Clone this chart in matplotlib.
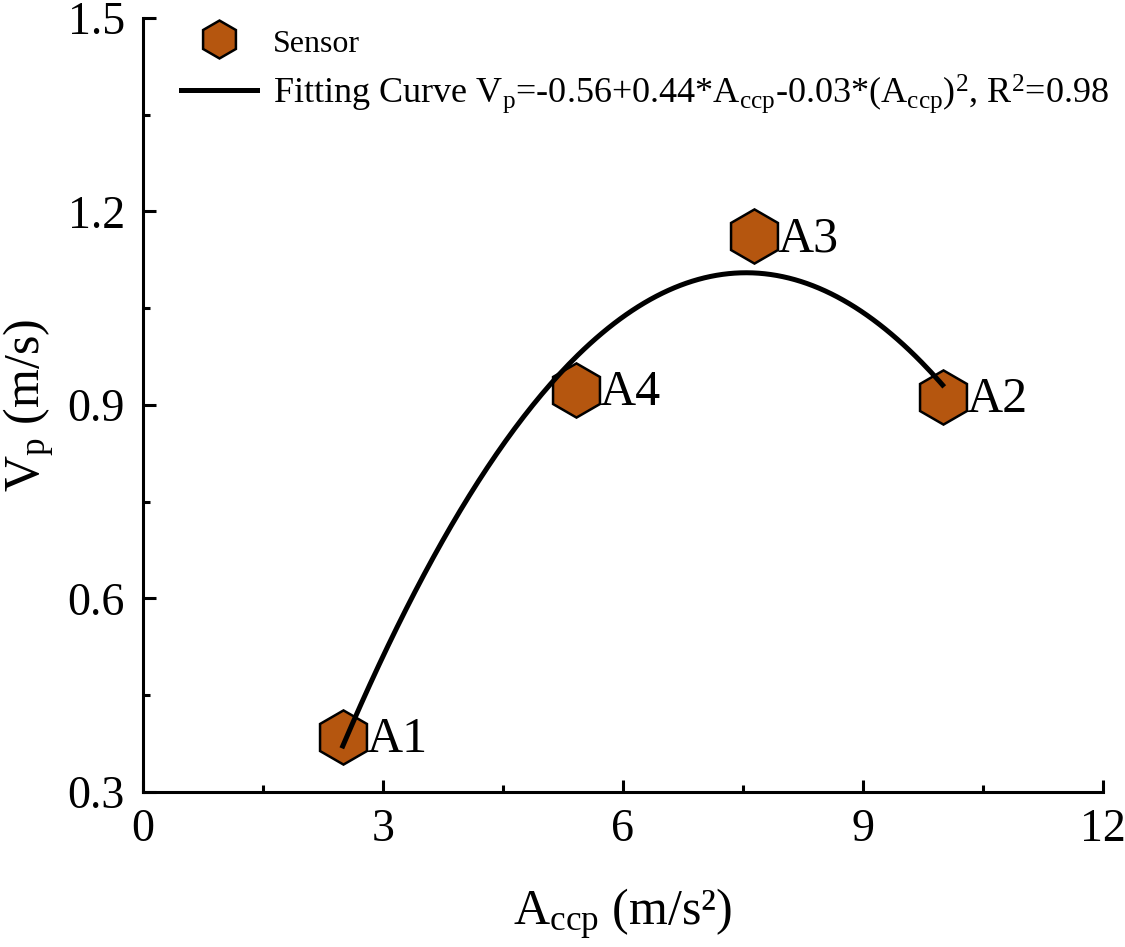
import numpy as np
import matplotlib.pyplot as plt

plt.rcParams["font.family"] = ["Liberation Serif", "DejaVu Serif"]
plt.rcParams["mathtext.fontset"] = "custom"
plt.rcParams["mathtext.rm"] = "Liberation Serif"
plt.rcParams["mathtext.it"] = "Liberation Serif:italic"

# Datos
sensores = ["A1", "A4", "A3", "A2"]
accp = np.array([2.5, 5.42, 7.64, 10.0])
vp = np.array([0.385, 0.923, 1.162, 0.912])

# Ajuste cuadratico
coef = np.polyfit(accp, vp, 2)
x_fit = np.linspace(accp.min(), accp.max(), 200)
y_fit = np.polyval(coef, x_fit)

fig = plt.figure(figsize=(11.25, 9.47), dpi=100)
ax = fig.add_axes([0.127, 0.1637, 0.853, 0.8173])

ax.plot(accp, vp, "h", markersize=39, markerfacecolor="#B5560F",
        markeredgecolor="black", markeredgewidth=1.8, label="Sensor", zorder=2)
ax.plot(x_fit, y_fit, "k-", linewidth=3.6, zorder=3,
        label=r"Fitting Curve V$_\mathregular{p}$=-0.56+0.44*A$_\mathregular{ccp}$"
              r"-0.03*(A$_\mathregular{ccp}$)$^\mathregular{2}$, R$^\mathregular{2}$=0.98")

for nombre, x, y in zip(sensores, accp, vp):
    ax.annotate(nombre, (x, y), xytext=(17, -2), textcoords="offset points",
                ha="left", va="center", fontsize=36, zorder=4)

ax.set_xlim(0, 12)
ax.set_ylim(0.3, 1.5)
ax.set_xticks([0, 3, 6, 9, 12])
ax.set_xticks([1.5, 4.5, 7.5, 10.5], minor=True)
ax.set_yticks([0.3, 0.6, 0.9, 1.2, 1.5])
ax.set_yticks([0.45, 0.75, 1.05, 1.35], minor=True)
ax.set_yticklabels(["0.3", "0.6", "0.9", "1.2", "1.5"])

ax.spines["top"].set_visible(False)
ax.spines["right"].set_visible(False)
for s in ["left", "bottom"]:
    ax.spines[s].set_linewidth(2.2)
ax.tick_params(which="major", direction="in", length=9, width=2.2, labelsize=33)
ax.tick_params(axis="x", which="major", pad=12)
ax.tick_params(axis="y", which="major", pad=13)
ax.tick_params(which="minor", direction="in", length=5, width=2.2)

ax.set_xlabel("A$_\\mathregular{ccp}$ (m/s²)", fontsize=36)
ax.set_ylabel("V$_\\mathregular{p}$ (m/s)", fontsize=36)
ax.xaxis.set_label_coords(0.5, -0.123)
ax.yaxis.set_label_coords(-0.09, 0.5)

leg = ax.legend(loc="upper left", bbox_to_anchor=(0.0396, 0.989), frameon=False,
                fontsize=26, handlelength=2.1, handletextpad=0.44,
                labelspacing=0.38, markerscale=0.7, borderpad=0,
                borderaxespad=0)
leg.get_texts()[0].set_fontsize(23)

fig.savefig("out.png", dpi=100)
